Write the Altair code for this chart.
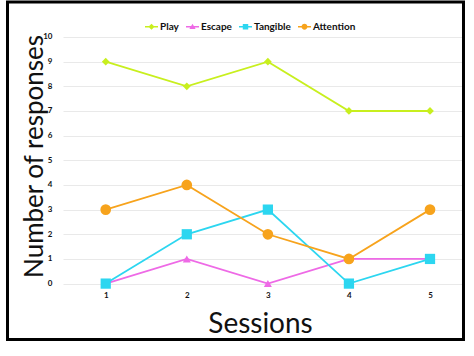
import altair as alt
import pandas as pd

# ---- data ----
sessions = [1, 2, 3, 4, 5]
series_names = ["Play", "Escape", "Tangible", "Attention"]
play = [9, 8, 9, 7, 7]
escape = [0, 1, 0, 1, 1]
tangible = [0, 2, 3, 0, 1]
attention = [3, 4, 2, 1, 3]
y_ticks = list(range(0, 11))
x_ticks = sessions

# ---- styles ----
colors = ["#c8ef1e", "#ee6ae6", "#2cd6f0", "#f7a31c"]
shapes = ["diamond", "triangle-up", "square", "circle"]
sizes = [60, 65, 105, 115]
seg = "M-1,-0.12H1V0.12H-1Z"
legend_paths = [
    seg + "M0,-0.48L0.48,0L0,0.48L-0.48,0Z",
    seg + "M0,-0.48L0.48,0.36L-0.48,0.36Z",
    seg + "M-0.42,-0.42H0.42V0.42H-0.42Z",
    seg + "M0.45,0A0.45,0.45,0,1,1,-0.45,0A0.45,0.45,0,1,1,0.45,0Z",
]

rows = []
for name, vals in zip(series_names, [play, escape, tangible, attention]):
    for s, v in zip(sessions, vals):
        rows.append({"Session": s, "Responses": v, "Series": name})
df = pd.DataFrame(rows)

legend = alt.Legend(
    title=None,
    orient="none",
    direction="horizontal",
    legendX=82,
    legendY=-17,
    symbolSize=169,
    symbolOpacity=1,
    symbolStrokeWidth=0,
    labelFont="Lato",
    labelFontWeight="bold",
    labelFontSize=10,
    labelColor="#111111",
    labelOffset=2,
    columnPadding=7,
)

scale_color = alt.Scale(domain=series_names, range=colors)

x_enc = alt.X(
    "Session:Q",
    scale=alt.Scale(domain=[0.473, 5.407], nice=False, zero=False),
    axis=alt.Axis(
        values=x_ticks,
        format="d",
        grid=False,
        domain=False,
        ticks=False,
        labelPadding=8,
        labelFont="Lato",
        labelFontWeight="bold",
        labelFontSize=8,
        labelColor="#111111",
        title="Sessions",
        titleFont="Lato",
        titleFontWeight="normal",
        titleFontSize=28,
        titleColor="#111111",
        titleX=197,
        titleY=49,
        titleAlign="center",
        titleBaseline="alphabetic",
    ),
)
y_enc = alt.Y(
    "Responses:Q",
    scale=alt.Scale(domain=[0, 10], nice=False),
    axis=alt.Axis(
        values=y_ticks,
        grid=True,
        gridColor="#e9e9e9",
        gridWidth=1,
        domain=False,
        ticks=False,
        labelPadding=11,
        labelFont="Lato",
        labelFontWeight="bold",
        labelFontSize=8,
        labelColor="#111111",
        title="Number of responses",
        titleFont="Lato",
        titleFontWeight="normal",
        titleFontSize=26,
        titleColor="#111111",
        titleAngle=-90,
        titleX=-21,
        titleY=119,
        titleAlign="center",
        titleBaseline="alphabetic",
    ),
)

base = alt.Chart(df)

# invisible layer that only carries the legend (line + marker symbols)
legend_layer = base.mark_point(filled=True, opacity=0).encode(
    x=x_enc,
    y=y_enc,
    color=alt.Color("Series:N", scale=scale_color, legend=legend),
    shape=alt.Shape("Series:N", scale=alt.Scale(domain=series_names, range=legend_paths), legend=legend),
)

lines = base.mark_line(strokeWidth=1.8).encode(
    x=x_enc, y=y_enc,
    color=alt.Color("Series:N", scale=scale_color, legend=legend),
)

point_layers = []
for name, col, shp, sz in zip(series_names, colors, shapes, sizes):
    point_layers.append(
        base.transform_filter(alt.datum.Series == name)
        .mark_point(filled=True, opacity=1, shape=shp, size=sz, color=col)
        .encode(x=x_enc, y=y_enc)
    )

frame = alt.Chart(pd.DataFrame({"f": [0]})).mark_rect(
    fill=None, stroke="#000000", strokeWidth=3, clip=False
).encode(
    x=alt.value(-55.5), x2=alt.value(400.5), y=alt.value(-35), y2=alt.value(302.5)
)

chart = (
    alt.layer(legend_layer, lines, *point_layers, frame)
    .properties(
        width=400,
        height=246.6,
        padding={"left": 63, "top": 37, "right": 11, "bottom": 72},
        autosize=alt.AutoSizeParams(type="none"),
        background="white",
    )
    .configure_view(stroke=None)
)

chart.save("out.html", embed_options={"renderer": "svg", "actions": False})
